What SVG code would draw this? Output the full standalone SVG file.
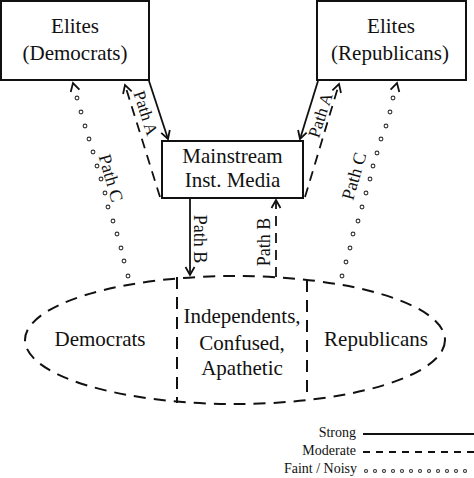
<svg xmlns="http://www.w3.org/2000/svg" width="474" height="478" viewBox="0 0 474 478">
<style>
text{font-family:"Liberation Serif","Times New Roman",serif;fill:#111}
.big{font-size:21px;text-anchor:middle}
.lbl{font-size:17px;text-anchor:middle}
.lblb{font-size:18px;text-anchor:middle}
.leg{font-size:14px;text-anchor:end}
.box{fill:#fff;stroke:#111;stroke-width:2}
.solid{stroke:#111;stroke-width:1.8;fill:none}
.dash{stroke:#111;stroke-width:1.8;fill:none;stroke-dasharray:10 7}
.ell{stroke:#111;stroke-width:2;fill:none;stroke-dasharray:12 8}
.dot{fill:#fff;stroke:#333;stroke-width:1.1}
.ah{stroke:#111;stroke-width:1.8;fill:none}
</style>
<defs>
<marker id="arr" markerUnits="userSpaceOnUse" markerWidth="14" markerHeight="14" viewBox="-10 -7 14 14" refX="0" refY="0" orient="auto">
<path d="M-8,-4.5 L0,0 L-8,4.5" stroke="#111" stroke-width="1.8" fill="none" stroke-dasharray="none"/>
</marker>
</defs>
<g id="population">
<ellipse class="ell" cx="235" cy="340" rx="210" ry="64"/>
<line class="ell" x1="177" y1="277" x2="177" y2="403"/>
<line class="ell" x1="307" y1="280" x2="307" y2="399"/>
<text class="big" x="100" y="346">Democrats</text>
<text class="big" x="242" y="323">Independents,</text>
<text class="big" x="242" y="350">Confused,</text>
<text class="big" x="242" y="375">Apathetic</text>
<text class="big" x="376" y="346">Republicans</text>
</g>
<g id="elites-dem">
<rect class="box" x="1" y="1" width="148" height="79"/>
<text class="big" x="75" y="33">Elites</text>
<text class="big" x="75" y="60">(Democrats)</text>
</g>
<g id="elites-rep">
<rect class="box" x="317" y="1" width="149" height="79"/>
<text class="big" x="391" y="33">Elites</text>
<text class="big" x="390" y="60">(Republicans)</text>
</g>
<g id="media">
<rect class="box" x="162" y="141" width="141" height="57"/>
<text class="big" x="232.5" y="163">Mainstream</text>
<text class="big" x="232.5" y="187">Inst. Media</text>
</g>
<g id="connectors">
<line class="solid" x1="149" y1="81" x2="168" y2="139" marker-end="url(#arr)"/>
<line class="dash" x1="160" y1="197" x2="125" y2="85" marker-end="url(#arr)"/>
<line class="solid" x1="318" y1="81" x2="300" y2="139" marker-end="url(#arr)"/>
<line class="dash" x1="305" y1="197" x2="339" y2="84" marker-end="url(#arr)"/>
<line class="solid" x1="190" y1="199" x2="190" y2="275" marker-end="url(#arr)"/>
<line class="dash" x1="276" y1="277" x2="276" y2="200" marker-end="url(#arr)"/>
<g id="pathC-left">
<circle class="dot" cx="77" cy="98" r="1.9"/><circle class="dot" cx="81" cy="112" r="1.9"/><circle class="dot" cx="85" cy="126" r="1.9"/><circle class="dot" cx="89" cy="139" r="1.9"/><circle class="dot" cx="93" cy="152" r="1.9"/><circle class="dot" cx="97" cy="166" r="1.9"/><circle class="dot" cx="101" cy="179" r="1.9"/><circle class="dot" cx="105" cy="193" r="1.9"/><circle class="dot" cx="108" cy="207" r="1.9"/><circle class="dot" cx="113" cy="221" r="1.9"/><circle class="dot" cx="117" cy="234" r="1.9"/><circle class="dot" cx="121" cy="248" r="1.9"/><circle class="dot" cx="124" cy="261" r="1.9"/><circle class="dot" cx="128" cy="276" r="1.9"/>
<path class="ah" d="M79.4,89.6 L73,83 L70.7,91.9"/>
</g>
<g id="pathC-right">
<circle class="dot" cx="393" cy="98" r="1.9"/><circle class="dot" cx="390" cy="112" r="1.9"/><circle class="dot" cx="386" cy="126" r="1.9"/><circle class="dot" cx="381" cy="139" r="1.9"/><circle class="dot" cx="377" cy="153" r="1.9"/><circle class="dot" cx="373" cy="166" r="1.9"/><circle class="dot" cx="370" cy="179" r="1.9"/><circle class="dot" cx="366" cy="193" r="1.9"/><circle class="dot" cx="362" cy="207" r="1.9"/><circle class="dot" cx="358" cy="221" r="1.9"/><circle class="dot" cx="353" cy="234" r="1.9"/><circle class="dot" cx="350" cy="248" r="1.9"/><circle class="dot" cx="346" cy="262" r="1.9"/><circle class="dot" cx="342" cy="276" r="1.9"/>
<path class="ah" d="M399.3,91.9 L397,83 L390.6,89.6"/>
</g>
<text class="lbl" transform="translate(146,113) rotate(72)" y="6">Path A</text>
<text class="lbl" transform="translate(320,115) rotate(-72)" y="6">Path A</text>
<text class="lblb" transform="translate(200,239) rotate(90)" y="6">Path B</text>
<text class="lblb" transform="translate(264,242) rotate(-90)" y="6">Path B</text>
<text class="lblb" transform="translate(111,178) rotate(74)" y="6">Path C</text>
<text class="lblb" transform="translate(354,176) rotate(-74)" y="6">Path C</text>
</g>
<g id="legend">
<text class="leg" x="356" y="437">Strong</text>
<line class="solid" x1="363" y1="434" x2="474" y2="434"/>
<text class="leg" x="356" y="455">Moderate</text>
<line class="dash" x1="363" y1="452" x2="474" y2="452" style="stroke-dasharray:7 6"/>
<text class="leg" x="357" y="473">Faint / Noisy</text>
<g>
<circle class="dot" cx="366" cy="471" r="1.5"/><circle class="dot" cx="375" cy="471" r="1.5"/><circle class="dot" cx="384" cy="471" r="1.5"/><circle class="dot" cx="393" cy="471" r="1.5"/><circle class="dot" cx="402" cy="471" r="1.5"/><circle class="dot" cx="411" cy="471" r="1.5"/><circle class="dot" cx="420" cy="471" r="1.5"/><circle class="dot" cx="429" cy="471" r="1.5"/><circle class="dot" cx="438" cy="471" r="1.5"/><circle class="dot" cx="447" cy="471" r="1.5"/><circle class="dot" cx="456" cy="471" r="1.5"/><circle class="dot" cx="465" cy="471" r="1.5"/>
</g>
</g>
</svg>
